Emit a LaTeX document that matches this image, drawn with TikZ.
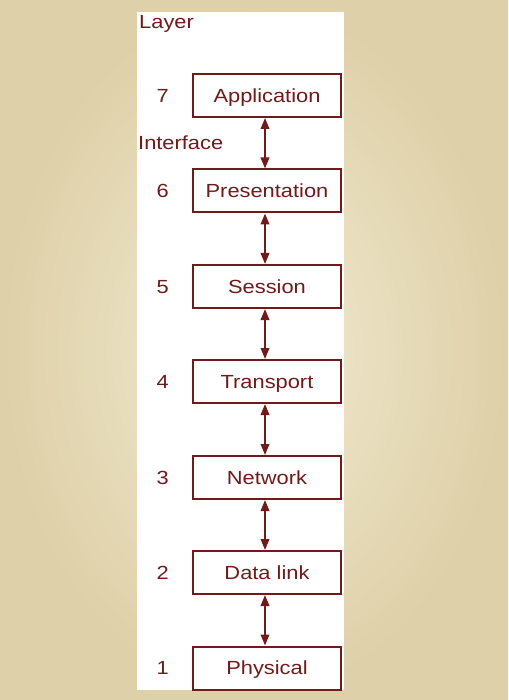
\documentclass[tikz,border=0pt]{standalone}
\usepackage{fontspec}
\setmainfont[FakeStretch=1.15]{Liberation Sans}
\usetikzlibrary{arrows.meta,positioning}
\definecolor{osired}{RGB}{112,26,26}
\definecolor{paper}{RGB}{242,235,210}
\definecolor{paperdark}{RGB}{222,208,168}

\begin{document}
\begin{tikzpicture}[x = 1pt, y = -1pt,
    layer/.style = {draw=osired, line width=2pt, minimum width=148pt, minimum height=43pt, inner sep=0pt, text height=13.5pt, text depth=0pt, text=osired, font=\fontsize{19}{21}\selectfont},
    num/.style = {text=osired, inner sep=0pt, text height=13.5pt, text depth=0pt, font=\fontsize{19}{21}\selectfont},
    link/.style = {osired, line width=2pt, {Triangle[length=11pt,width=8.5pt]}-{Triangle[length=11pt,width=8.5pt]}}]
    \useasboundingbox (0,0) rectangle (508,700);
    \shade[inner color=paper, outer color=paperdark] (0,0) rectangle (508,700);
    \fill[white] (137,12) rectangle (344,690);
    % layers
    \node[layer] (app) at (267,95.5) {Application};
    \node[layer] (pres) at (267,191) {Presentation};
    \node[layer] (sess) at (267,286.5) {Session};
    \node[layer] (trans) at (267,381.5) {Transport};
    \node[layer] (net) at (267,477.5) {Network};
    \node[layer] (dlink) at (267,572.5) {Data link};
    \node[layer] (phys) at (267,668) {Physical};
    % numbers
    \node[num, left = 23pt of app] (n7) {7};
    \node[num, left = 23pt of pres] (n6) {6};
    \node[num, left = 23pt of sess] (n5) {5};
    \node[num, left = 23pt of trans] (n4) {4};
    \node[num, left = 23pt of net] (n3) {3};
    \node[num, left = 23pt of dlink] (n2) {2};
    \node[num, left = 23pt of phys] (n1) {1};
    \node[num, anchor=west] (layerlbl) at (139,22) {Layer};
    \node[num, anchor=west] (iflbl) at (138,143) {Interface};
    % interfaces
    \draw[link] ([xshift=-2pt]app.south) -- ([xshift=-2pt]pres.north);
    \draw[link] ([xshift=-2pt]pres.south) -- ([xshift=-2pt]sess.north);
    \draw[link] ([xshift=-2pt]sess.south) -- ([xshift=-2pt]trans.north);
    \draw[link] ([xshift=-2pt]trans.south) -- ([xshift=-2pt]net.north);
    \draw[link] ([xshift=-2pt]net.south) -- ([xshift=-2pt]dlink.north);
    \draw[link] ([xshift=-2pt]dlink.south) -- ([xshift=-2pt]phys.north);
\end{tikzpicture}
\end{document}
